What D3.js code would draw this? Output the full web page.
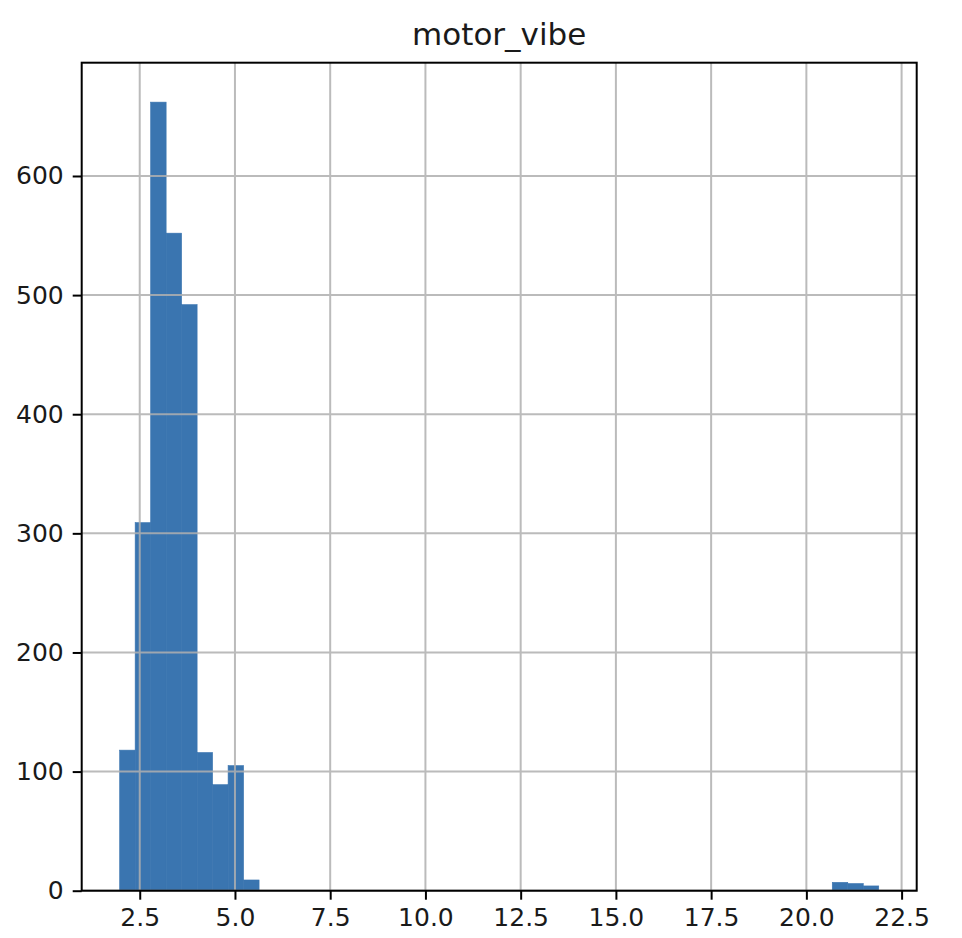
<!DOCTYPE html>
<html>
<head>
<meta charset="utf-8">
<script src="https://cdn.jsdelivr.net/npm/d3@7"></script>
<style>
  body { margin: 0; background: #fff; }
  text { font-family: "DejaVu Sans", sans-serif; }
</style>
</head>
<body>
<div id="chart"></div>
<script>
// histogram of motor_vibe, 50 bins
var binMin = 1.973;
var binMax = 21.90;
var counts = [118, 309, 662, 552, 492, 116, 89, 105, 9,
  0, 0, 0, 0, 0, 0, 0, 0, 0, 0,
  0, 0, 0, 0, 0, 0, 0, 0, 0, 0,
  0, 0, 0, 0, 0, 0, 0, 0, 0, 0,
  0, 0, 0, 0, 0, 0, 0, 7, 6, 4];
var xTicks = [2.5, 5.0, 7.5, 10.0, 12.5, 15.0, 17.5, 20.0, 22.5];
var yTicks = [0, 100, 200, 300, 400, 500, 600];

var svgWidth = 962;
var svgHeight = 938;
var margin = {top: 62.7, right: 45.3, bottom: 47.3, left: 81.7};
var width = svgWidth - margin.left - margin.right;
var height = svgHeight - margin.top - margin.bottom;

var svg = d3.select("#chart")
    .append("svg")
    .attr("width", svgWidth)
    .attr("height", svgHeight);

var chart = svg.append("g")
    .attr("transform", `translate(${margin.left}, ${margin.top})`);

var nBins = counts.length;
var binW = (binMax - binMin) / nBins;
var bins = counts.map((c, i) => ({x0: binMin + i * binW, x1: binMin + (i + 1) * binW, n: c}));

// matplotlib style 5% margins
var pad = (binMax - binMin) * 0.05;
var x = d3.scaleLinear().domain([binMin - pad, binMax + pad]).range([0, width]);
var y = d3.scaleLinear().domain([0, d3.max(counts) * 1.05]).range([height, 0]);

// bars (stroke in same colour hides seams between neighbours)
chart.selectAll("rect.bar")
    .data(bins.filter(d => d.n > 0))
    .enter()
    .append("rect")
    .attr("class", "bar")
    .attr("x", d => x(d.x0))
    .attr("width", d => x(d.x1) - x(d.x0))
    .attr("y", d => y(d.n))
    .attr("height", d => y(0) - y(d.n))
    .attr("fill", "#3a75b0")
    .attr("stroke", "#3a75b0")
    .attr("stroke-width", 0.6);

// grid on top of bars
var grid = chart.append("g").attr("stroke", "#b0b0b0").attr("stroke-width", 2).attr("opacity", 0.85);
grid.selectAll("line.vx")
    .data(xTicks)
    .enter()
    .append("line")
    .attr("x1", d => x(d)).attr("x2", d => x(d))
    .attr("y1", 0).attr("y2", height);
grid.selectAll("line.hy")
    .data(yTicks)
    .enter()
    .append("line")
    .attr("x1", 0).attr("x2", width)
    .attr("y1", d => y(d)).attr("y2", d => y(d));

// axes
var bottomAxis = d3.axisBottom(x).tickValues(xTicks).tickFormat(d3.format(".1f")).tickSize(9).tickPadding(9);
var leftAxis = d3.axisLeft(y).tickValues(yTicks).tickFormat(d3.format("d")).tickSize(9).tickPadding(9);

var xAxis = chart.append("g")
    .attr("transform", `translate(0, ${height})`)
    .call(bottomAxis);
var yAxis = chart.append("g").call(leftAxis);

[xAxis, yAxis].forEach(function(ax) {
    ax.select(".domain").remove();
    ax.selectAll(".tick line").attr("stroke", "#000").attr("stroke-width", 2);
    ax.selectAll(".tick text")
        .attr("fill", "#1a1a1a")
        .style("font-size", "25px")
        .style("font-family", "DejaVu Sans");
});

// spines
chart.append("rect")
    .attr("x", 0).attr("y", 0)
    .attr("width", width).attr("height", height)
    .attr("fill", "none")
    .attr("stroke", "#000")
    .attr("stroke-width", 2);

// title
svg.append("text")
    .attr("x", margin.left + width / 2)
    .attr("y", 45)
    .attr("text-anchor", "middle")
    .attr("fill", "#1a1a1a")
    .style("font-size", "31px")
    .text("motor_vibe");
</script>
</body>
</html>
